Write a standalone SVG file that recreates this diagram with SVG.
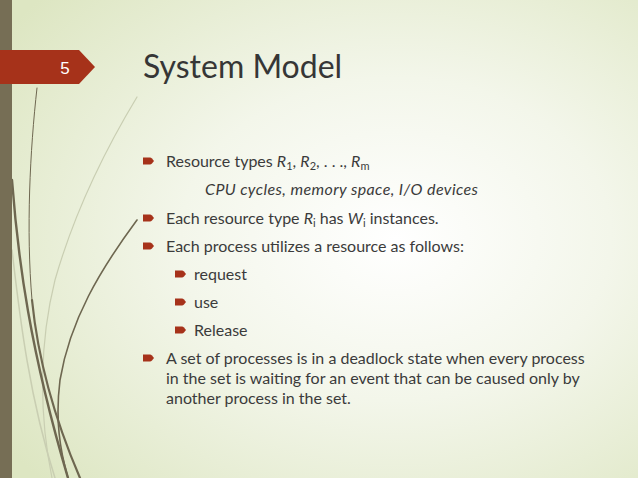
<svg xmlns="http://www.w3.org/2000/svg" width="638" height="478" viewBox="0 0 638 478">
<defs>
<radialGradient id="bg" cx="0.62" cy="0.5" r="0.75" fx="0.62" fy="0.5">
<stop offset="0" stop-color="#ffffff"/>
<stop offset="0.45" stop-color="#f3f6ea"/>
<stop offset="1" stop-color="#dde6c2"/>
</radialGradient>
<path id="bul" d="M0,-3.5 h7 q1,0 2,1 l2,2.5 l-2,2.5 q-1,1 -2,1 h-7 z" fill="#a6321a"/>
</defs>
<style>
.t{font-family:Lato,"Open Sans","Liberation Sans",sans-serif;fill:#3b3b3b;font-size:16px}
.it{font-style:italic}
.title{font-family:Lato,"Open Sans","Liberation Sans",sans-serif;fill:#363636;font-size:32px}
.thick{fill:none;stroke:#6e6750;stroke-linecap:round}
.faint{fill:none;stroke:#c9ceb2;stroke-linecap:round}
</style>
<rect width="638" height="478" fill="url(#bg)"/>
<g id="curves">
<path class="faint" stroke-width="1.2" d="M137,97 C105,150 75,210 55,280 C40,340 38,410 52,478"/>
<path class="faint" stroke-width="1.5" d="M12,250 C20,320 30,400 55,478"/>
<path class="thick" stroke-width="1" d="M37,88 C30,150 26,230 32,300"/>
<path class="thick" stroke-width="2.2" d="M32,300 C38,360 55,420 80,478"/>
<path class="thick" stroke-width="2.4" d="M12,180 C18,260 30,350 68,478"/>
<path class="thick" stroke-width="1.6" d="M137,220 C100,270 70,320 60,380 C55,420 60,450 68,478"/>
</g>
<rect id="sidebar" x="0" y="0" width="12" height="478" fill="#766e55"/>
<g id="tab">
<path d="M0,50 H79 L95,67 L79,84 H0 Z" fill="#a6321a"/>
<text x="65" y="74" font-family="Liberation Sans,Arial,sans-serif" font-size="17" fill="#ffffff" text-anchor="middle">5</text>
</g>
<text class="title" x="143" y="78">System Model</text>
<g id="body">
<use href="#bul" x="143" y="161"/>
<text class="t" x="166" y="167">Resource types <tspan class="it">R</tspan><tspan font-size="11" dy="3">1</tspan><tspan dy="-3">, </tspan><tspan class="it">R</tspan><tspan font-size="11" dy="3">2</tspan><tspan dy="-3">, . . ., </tspan><tspan class="it">R</tspan><tspan font-size="11" dy="3">m</tspan></text>
<text class="t it" x="205" y="195" letter-spacing="0.4">CPU cycles, memory space, I/O devices</text>
<use href="#bul" x="143" y="218"/>
<text class="t" x="166" y="224">Each resource type <tspan class="it">R</tspan><tspan font-size="11" dy="3">i</tspan><tspan dy="-3"> has </tspan><tspan class="it">W</tspan><tspan font-size="11" dy="3">i</tspan><tspan dy="-3"> instances.</tspan></text>
<use href="#bul" x="143" y="246"/>
<text class="t" x="166" y="252">Each process utilizes a resource as follows:</text>
<use href="#bul" x="175" y="274"/>
<text class="t" x="194" y="280">request</text>
<use href="#bul" x="175" y="302"/>
<text class="t" x="194" y="308">use</text>
<use href="#bul" x="175" y="330"/>
<text class="t" x="194" y="336">Release</text>
<use href="#bul" x="143" y="358"/>
<text class="t" x="166" y="364">A set of processes is in a deadlock state when every process</text>
<text class="t" x="166" y="384">in the set is waiting for an event that can be caused only by</text>
<text class="t" x="166" y="404">another process in the set.</text>
</g>
</svg>
